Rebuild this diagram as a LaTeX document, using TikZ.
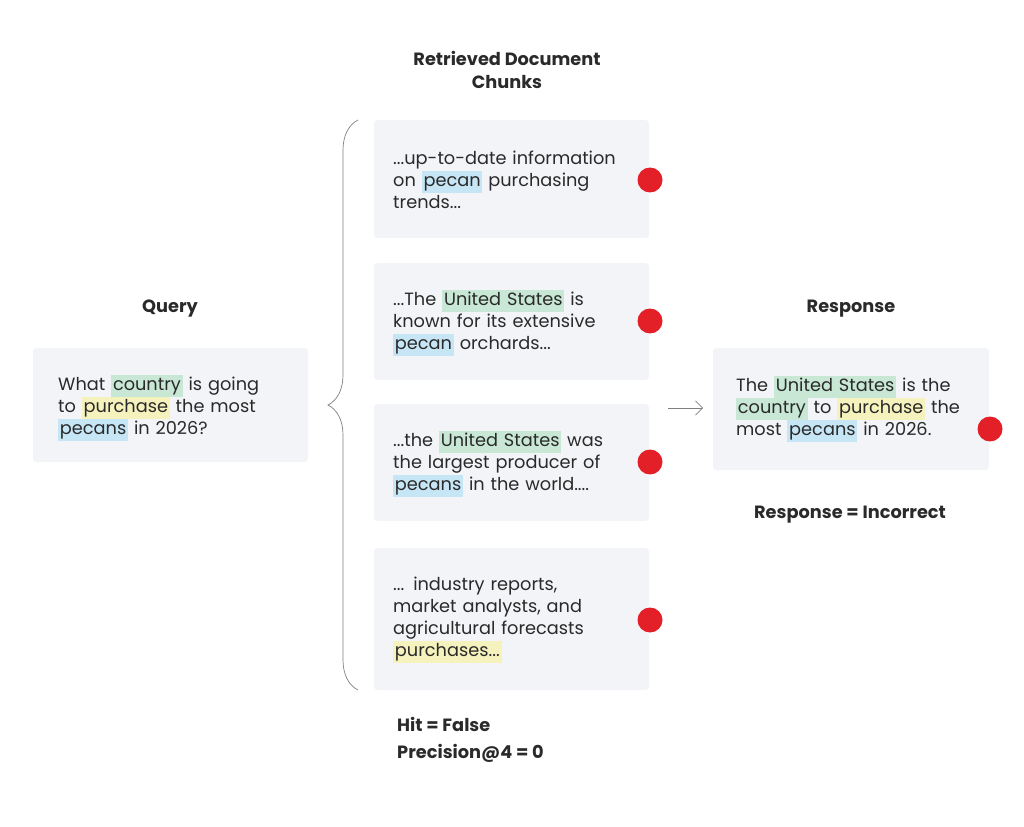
\documentclass[tikz,border=0pt]{standalone}
\usepackage{fontspec}
\setmainfont{Poppins}
\usepackage{xcolor}
\usetikzlibrary{decorations.pathreplacing, arrows.meta}

\definecolor{boxgray}{HTML}{F3F4F7}
\definecolor{hlgreen}{HTML}{C8E8D5}
\definecolor{hlblue}{HTML}{C6E6F6}
\definecolor{hlyellow}{HTML}{F6F2BD}
\definecolor{dotred}{HTML}{E32027}
\definecolor{inkdark}{HTML}{2A2A2A}

\newcommand{\hlbox}[2]{{\setlength{\fboxsep}{0pt}\colorbox{#1}{\strut\hspace{1pt}#2\hspace{1pt}}}}
\newcommand{\hlg}[1]{\hlbox{hlgreen}{#1}}
\newcommand{\hlb}[1]{\hlbox{hlblue}{#1}}
\newcommand{\hly}[1]{\hlbox{hlyellow}{#1}}

\begin{document}
\begin{tikzpicture}[x=0.02cm, y=-0.02cm,
    every node/.style={text=inkdark, font=\fontsize{10.1}{12.6}\selectfont},
    chunk/.style={fill=boxgray, rounded corners=2pt},
    body/.style={anchor=west, align=left, text width=5.1cm},
    heading/.style={font=\fontsize{10.1}{12.6}\selectfont\bfseries, align=center},
    dot/.style={circle, fill=dotred, minimum size=0.5cm, inner sep=0pt}]
    \useasboundingbox (0,0) rectangle (1024,827);

    % Query
    \node[heading] (qhead) at (170,309) {Query};
    \fill[chunk] (33,348) rectangle (308,462);
    \node[body] (query) at (52,408) {What \hlg{country} is going\\to \hly{purchase} the most\\\hlb{pecans} in 2026?};

    % Retrieved chunks
    \node[heading] (chead) at (507,70) {Retrieved Document\\Chunks};
    \fill[chunk] (374,120) rectangle (649,238);
    \fill[chunk] (374,263) rectangle (649,380);
    \fill[chunk] (374,404) rectangle (649,521);
    \fill[chunk] (374,548) rectangle (649,690);
    \node[body] (c1) at (387,180) {...up-to-date information\\on \hlb{pecan} purchasing\\trends...};
    \node[body] (c2) at (387,323) {...The \hlg{United States} is\\known for its extensive\\\hlb{pecan} orchards...};
    \node[body] (c3) at (387,464) {...the \hlg{United States} was\\the largest producer of\\\hlb{pecans} in the world....};
    \node[body] (c4) at (387,620) {... industry reports,\\market analysts, and\\agricultural forecasts\\\hly{purchases...}};
    \foreach \i/\y in {1/180, 2/321, 3/462, 4/620}
        \node[dot] (d\i) at (650,\y) {};

    % Brace
    \coordinate (bbot) at (358,690);
    \coordinate (btop) at (358,120);
    \draw[gray, decorate, decoration={brace, amplitude=0.6cm}] (bbot) -- (btop);

    % Response
    \node[heading] (rhead) at (851,309) {Response};
    \fill[chunk] (713,348) rectangle (989,470);
    \node[body] (resp) at (730,409) {The \hlg{United States} is the\\\hlg{country} to \hly{purchase} the\\most \hlb{pecans} in 2026.};
    \node[dot] (rdot) at (990,429) {};
    \coordinate (afrom) at (668,408);
    \coordinate (ato) at (703,408);
    \draw[-{Straight Barb[length=4pt, width=8pt]}, gray] (afrom) -- (ato);
    \node[heading] (verdict) at (850,515) {Response = Incorrect};

    % Metrics
    \node[heading, anchor=west] (hit) at (391,724) {Hit = False};
    \node[heading, anchor=west] (prec) at (391,753) {Precision@4 = 0};
\end{tikzpicture}
\end{document}
